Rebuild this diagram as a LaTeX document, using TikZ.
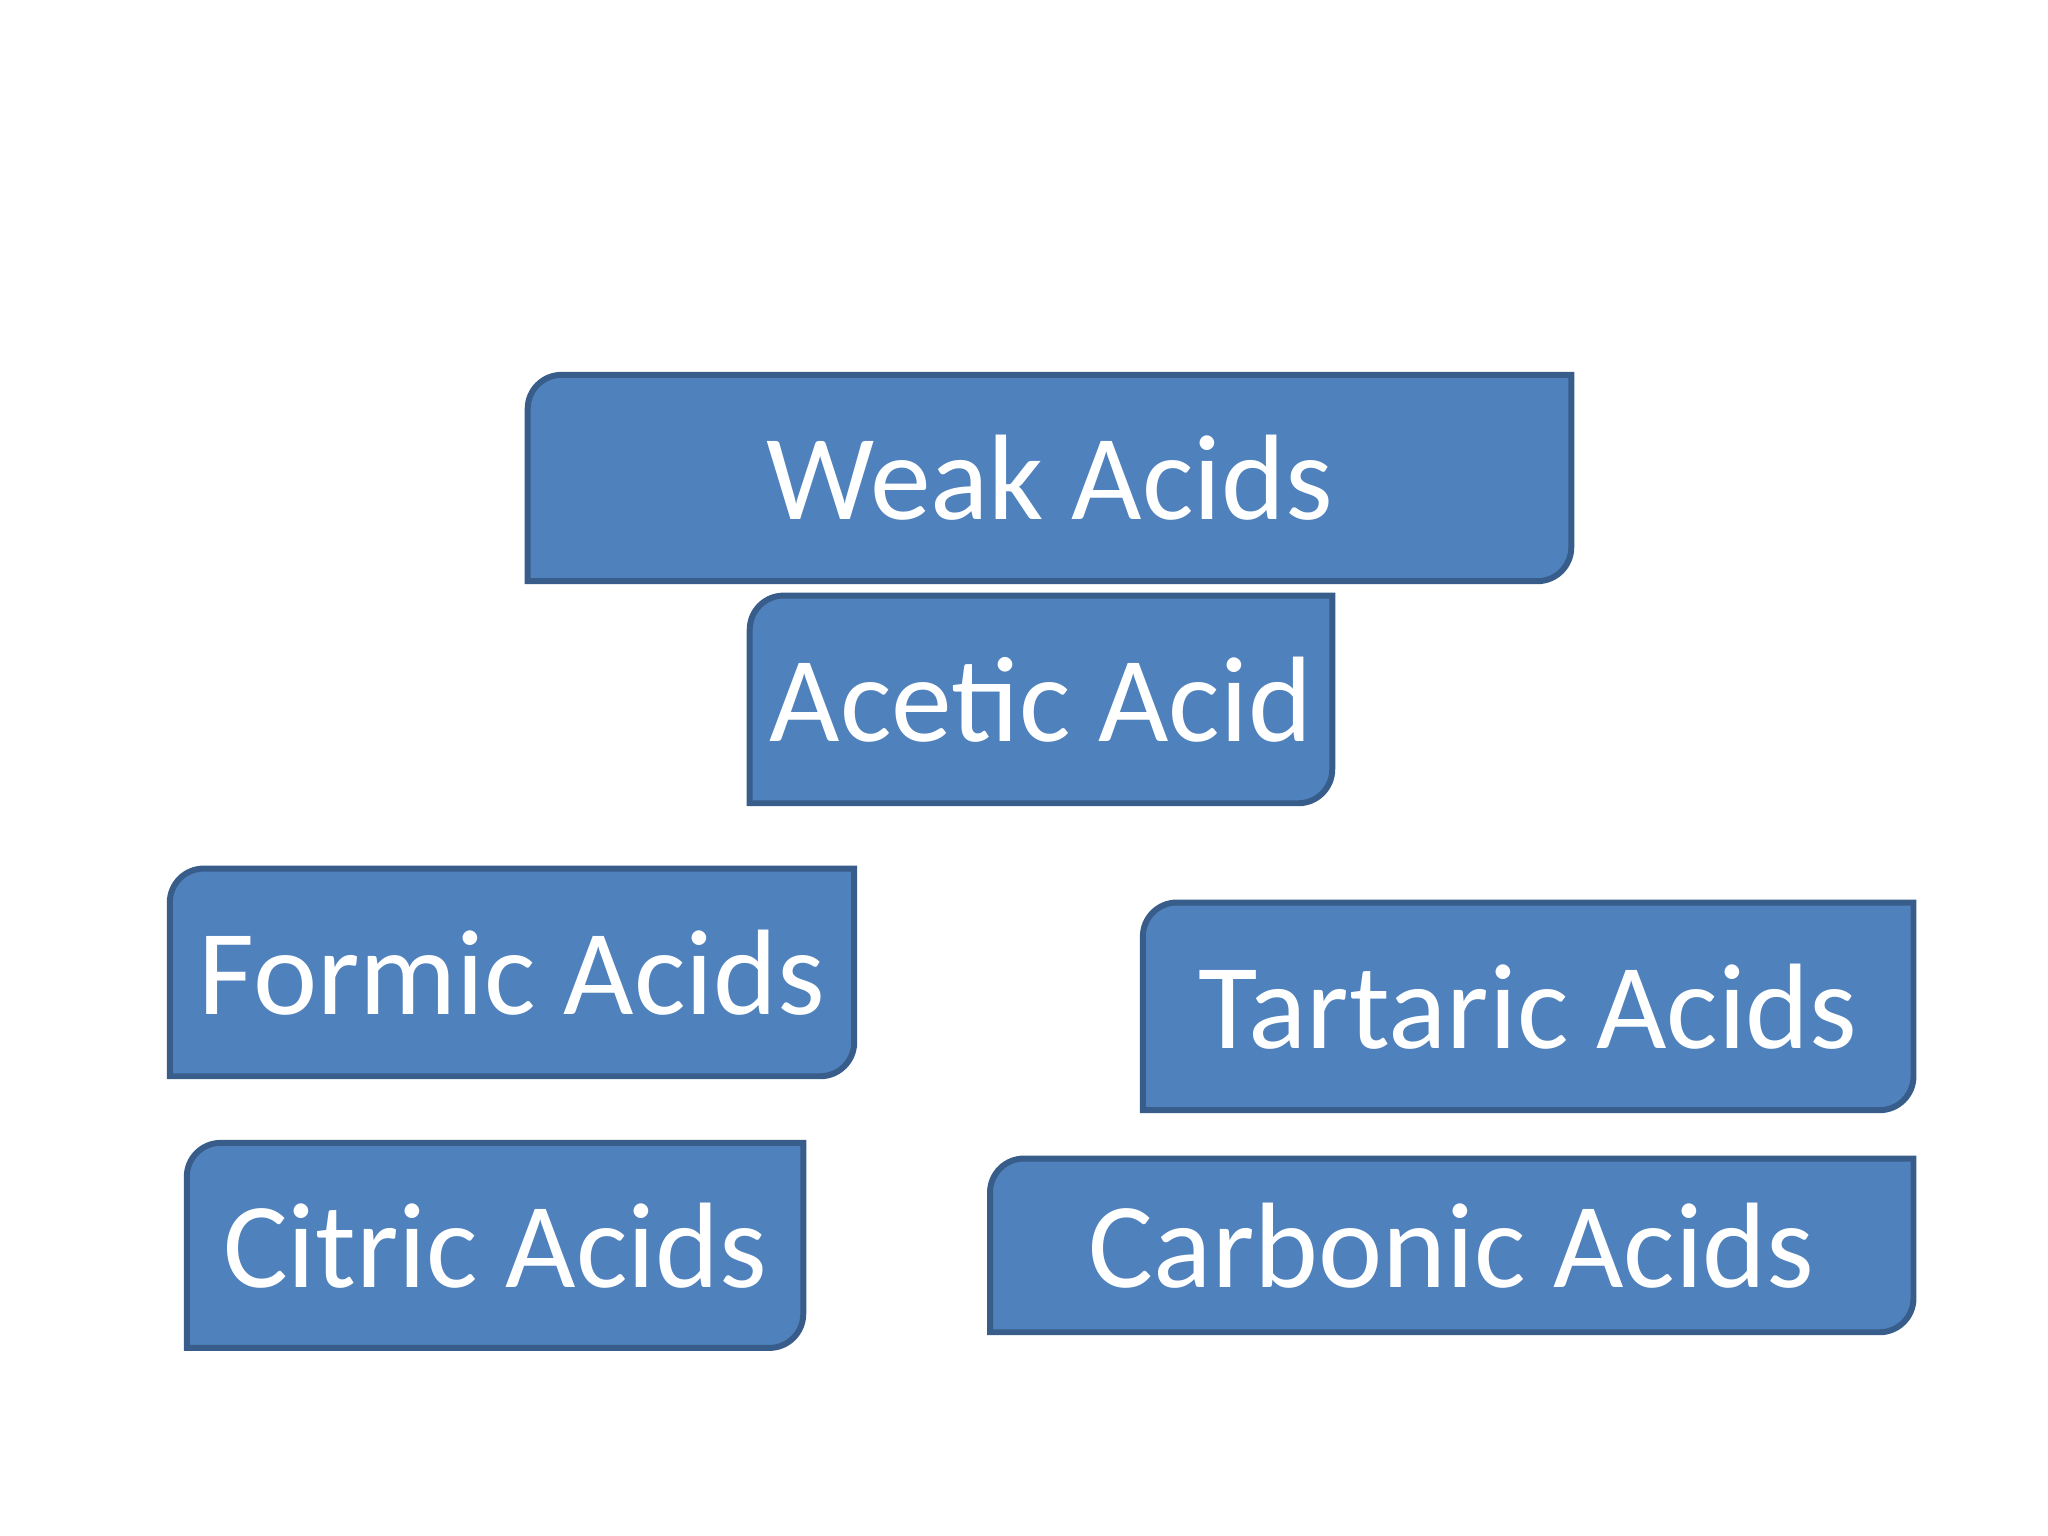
\documentclass[tikz,border=0pt]{standalone}
\usepackage{fontspec}
\setmainfont{Carlito}
\definecolor{boxfill}{HTML}{4F81BD}
\definecolor{boxline}{HTML}{385D8A}
\tikzset{boxshape/.style={fill=boxfill,draw=boxline,line width=1.3pt},
 boxtext/.style={text=white,font=\fontsize{26.5}{30}\selectfont,inner sep=0pt}}
\newcommand{\abox}[6]{%
 \path[boxshape] ({#2/100},{-#5/100}) -- ({#2/100},{-#3/100-0.26}) arc[start angle=180,end angle=90,radius=0.26] -- ({#4/100},{-#3/100}) -- ({#4/100},{-#5/100+0.26}) arc[start angle=0,end angle=-90,radius=0.26] -- cycle;
 \node[boxtext] (#1) at ({(#2+#4)/200},{-(#3+#5)/200}) {#6};}
\begin{document}
\begin{tikzpicture}
\useasboundingbox (0,0) rectangle (15.68,-11.76);
\abox{weak}{404}{287}{1203}{445}{Weak Acids}
\abox{acetic}{574}{456}{1020}{615}{Acetic Acid}
\abox{formic}{130}{665}{654}{824}{Formic Acids}
\abox{tartaric}{875}{691}{1465}{850}{Tartaric Acids}
\abox{citric}{143}{875}{615}{1032}{Citric Acids}
\abox{carbonic}{758}{887}{1465}{1020}{Carbonic Acids}
\end{tikzpicture}
\end{document}
